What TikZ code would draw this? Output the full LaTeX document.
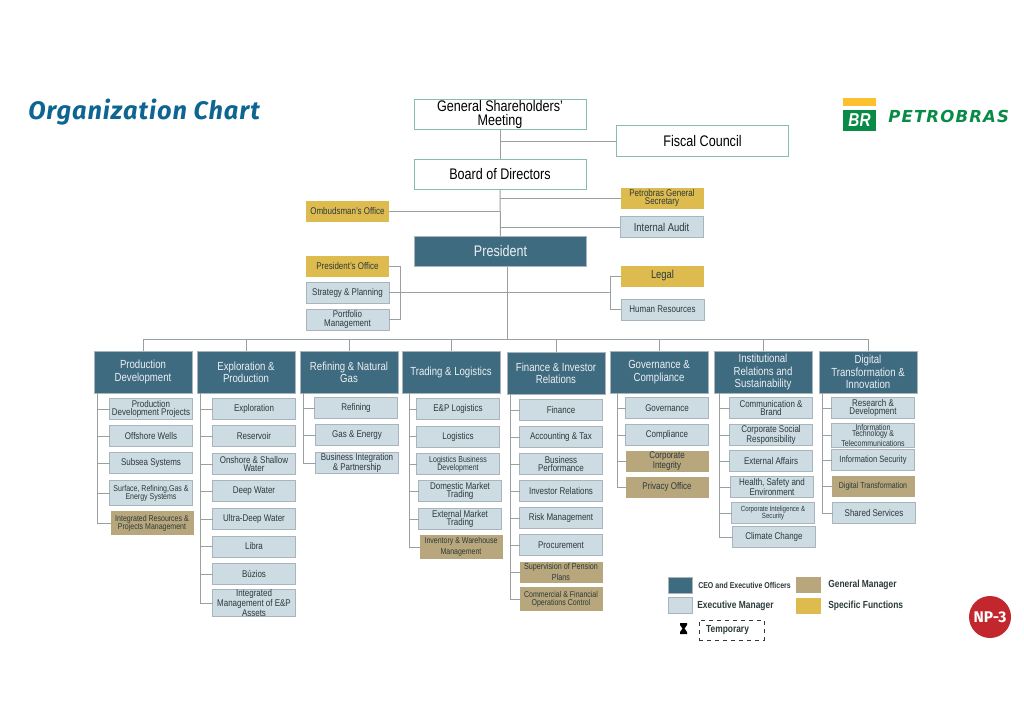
\documentclass[tikz,border=0pt]{standalone}
\usepackage{fontspec}
\setmainfont[FakeStretch=0.82]{Liberation Sans}
\newfontfamily\titlefont[LetterSpace=3.8]{Fira Sans}
\newfontfamily\logofont[LetterSpace=7]{DejaVu Sans}
\newfontfamily\npfont{Fira Sans}
\definecolor{headblue}{HTML}{3F6B80}
\definecolor{execblue}{HTML}{CDDBE3}
\definecolor{execline}{HTML}{A9B5BC}
\definecolor{gmtan}{HTML}{B8A67C}
\definecolor{specgold}{HTML}{DDBB4F}
\definecolor{topgreen}{HTML}{86BFA8}
\definecolor{linkgrey}{HTML}{9A9FA0}
\definecolor{inkgrey}{HTML}{2C3A3A}
\definecolor{titleblue}{HTML}{0F6592}
\definecolor{brgreen}{HTML}{0A8A47}
\definecolor{bryellow}{HTML}{FDC02F}
\definecolor{npred}{HTML}{C1272D}

\begin{document}
\begin{tikzpicture}[x=0.75pt, y=-0.75pt]
\tikzstyle{box}=[rectangle, align=center, inner sep=0pt, outer sep=0pt, line width=0.75pt, text=inkgrey, font=\fontsize{7.3}{6.5}\selectfont, minimum width=62.25pt, minimum height=15.75pt]
\tikzstyle{top}=[box, draw=topgreen, fill=white, text=black, font=\fontsize{11.5}{11}\selectfont, minimum width=129pt, minimum height=23pt]
\tikzstyle{head}=[box, draw=execline, fill=headblue, text=white!90!headblue, font=\fontsize{8.8}{9.2}\selectfont, minimum width=73.5pt, minimum height=31.5pt]
\tikzstyle{exec}=[box, draw=execline, fill=execblue]
\tikzstyle{gm}=[box, fill=gmtan]
\tikzstyle{spec}=[box, fill=specgold]
\tikzstyle{small}=[font=\fontsize{6.4}{6}\selectfont]
\tikzstyle{large}=[font=\fontsize{8.6}{9}\selectfont]
\tikzstyle{legend}=[anchor=west, inner sep=0pt, text=inkgrey, font=\fontsize{7.7}{8}\selectfont\bfseries]
\tikzstyle{link}=[draw=linkgrey, line width=0.75pt]
\tikzstyle{elbow}=[link, to path={|- (\tikztotarget)}]
\useasboundingbox (0,0) rectangle (1024,724);

% title and logo
\node[anchor=west, inner sep=0pt, text=titleblue, font=\titlefont\fontsize{19}{20}\selectfont\bfseries\itshape] (title) at (28,112) {Organization Chart};
\fill[bryellow] (843,98) rectangle (876,106);
\node[fill=brgreen, text=white, inner sep=0pt, minimum width=24.75pt, minimum height=15.75pt, font=\fontsize{14}{14}\selectfont\bfseries\itshape] (br) at (859.5,120.5) {BR};
\node[anchor=west, inner sep=0pt, text=brgreen, font=\logofont\fontsize{12.4}{13}\selectfont\bfseries\itshape] (petro) at (888,116) {PETROBRAS};

% top of the chart
\node[top] (gsm) at (500,114.5) {General Shareholders'\\Meeting};
\node[top] (fiscal) at (702.5,141) {Fiscal Council};
\node[top] (board) at (500,174.5) {Board of Directors};
\node[top, draw=execline, fill=headblue, text=white!90!headblue] (pres) at (500.5,251.5) {President};
\node[spec] (ombud) at (347.5,211.5) {Ombudsman's Office};
\node[spec] (secr) at (662,198) {Petrobras General\\Secretary};
\node[exec, large] (audit) at (661.5,227) {Internal Audit};
\node[spec] (poff) at (347.5,266) {President's Office};
\node[exec] (strat) at (347.5,292.5) {Strategy \& Planning};
\node[exec] (port) at (347.5,319.5) {Portfolio\\Management};
\node[spec, large] (legal) at (662.5,276) {Legal};
\node[exec] (hr) at (662.5,309.5) {Human Resources};

% executive officers
\node[head] (pd) at (143,372) {Production\\Development};
\node[head] (ep) at (246,372) {Exploration \&\\Production};
\node[head] (rg) at (349,372) {Refining \& Natural\\Gas};
\node[head] (tl) at (451,372) {Trading \& Logistics};
\node[head] (fi) at (556,373) {Finance \& Investor\\Relations};
\node[head] (gc) at (659,372) {Governance \&\\Compliance};
\node[head] (is) at (763,372) {Institutional\\Relations and\\Sustainability};
\node[head] (dt) at (868,372) {Digital\\Transformation \&\\Innovation};

\node[exec] (pd1) at (151,409) {Production\\Development Projects};
\node[exec] (pd2) at (151,436) {Offshore Wells};
\node[exec] (pd3) at (151,463) {Subsea Systems};
\node[exec, small, minimum height=19pt] (pd4) at (151,493) {Surface, Refining,Gas \&\\Energy Systems};
\node[gm, small, minimum height=18pt] (pd5) at (152,523) {Integrated Resources \&\\Projects Management};

\node[exec] (ep1) at (254,409) {Exploration};
\node[exec] (ep2) at (254,436) {Reservoir};
\node[exec] (ep3) at (254,464) {Onshore \& Shallow\\Water};
\node[exec] (ep4) at (254,491) {Deep Water};
\node[exec] (ep5) at (254,519) {Ultra-Deep Water};
\node[exec] (ep6) at (254,546.5) {Libra};
\node[exec] (ep7) at (254,574) {Búzios};
\node[exec, minimum height=20.25pt] (ep8) at (254,603) {Integrated\\Management of E\&P\\Assets};

\node[exec] (rg1) at (356,408) {Refining};
\node[exec] (rg2) at (357,435) {Gas \& Energy};
\node[exec] (rg3) at (357,463) {Business Integration\\\& Partnership};

\node[exec] (tl1) at (458,409) {E\&P Logistics};
\node[exec] (tl2) at (458,436.5) {Logistics};
\node[exec, small] (tl3) at (458,464) {Logistics Business\\Development};
\node[exec] (tl4) at (460,491) {Domestic Market\\Trading};
\node[exec] (tl5) at (460,519) {External Market\\Trading};
\node[gm, small, minimum height=18pt, font=\fontsize{6.4}{8}\selectfont] (tl6) at (461,547) {Inventory \& Warehouse\\Management};

\node[exec] (fi1) at (561,410) {Finance};
\node[exec] (fi2) at (561,437) {Accounting \& Tax};
\node[exec] (fi3) at (561,464) {Business\\Performance};
\node[exec] (fi4) at (561,491) {Investor Relations};
\node[exec] (fi5) at (561,518) {Risk Management};
\node[exec] (fi6) at (561,545) {Procurement};
\node[gm, small, font=\fontsize{6.6}{8}\selectfont] (fi7) at (561,572) {Supervision of Pension\\Plans};
\node[gm, small, minimum height=18pt] (fi8) at (561,599) {Commercial \& Financial\\Operations Control};

\node[exec] (gc1) at (667,408) {Governance};
\node[exec] (gc2) at (667,435) {Compliance};
\node[gm] (gc3) at (667,461) {Corporate\\Integrity};
\node[gm] (gc4) at (667,487) {Privacy Office};

\node[exec] (is1) at (771,408) {Communication \&\\Brand};
\node[exec] (is2) at (771,435) {Corporate Social\\Responsibility};
\node[exec] (is3) at (771,461) {External Affairs};
\node[exec] (is4) at (772,487) {Health, Safety and\\Environment};
\node[exec, font=\fontsize{5.6}{5.6}\selectfont] (is5) at (773,513) {Corporate Inteligence \&\\Security};
\node[exec] (is6) at (774,537) {Climate Change};

\node[exec] (dt1) at (873,408) {Research \&\\Development};
\node[exec, minimum height=18pt, font=\fontsize{6.4}{5}\selectfont] (dt2) at (873,435) {Information\\Technology \&\\Telecommunications};
\node[exec, font=\fontsize{6.9}{6.5}\selectfont] (dt3) at (873,460) {Information Security};
\node[gm, small] (dt4) at (873,486) {Digital Transformation};
\node[exec] (dt5) at (874,513) {Shared Services};

% free ends of the connectors
\coordinate (gsmjoin) at (500,141);
\coordinate (boardsec) at (500,198);
\coordinate (boardomb) at (500,211.5);
\coordinate (boardaud) at (500,227);
\coordinate (poffrun) at (400,292.5);
\coordinate (hrrun) at (610,292.5);
\coordinate (bus) at (507,339);
\coordinate (prestop) at (507,267);
\coordinate (pdt) at (97,393);
\coordinate (ept) at (200,393);
\coordinate (rgt) at (303,393);
\coordinate (tlt) at (409,393);
\coordinate (fit) at (510,394);
\coordinate (gct) at (617,393);
\coordinate (ist) at (719,393);
\coordinate (dtt) at (822,393);

\path (gsm) edge [link] (board)
      (board) edge [link] (pres)
      (gsmjoin) edge [link] (fiscal)
      (boardsec) edge [link] (secr)
      (boardomb) edge [link] (ombud)
      (boardaud) edge [link] (audit)
      (prestop) edge [link] (bus)
      (strat) edge [link] (hrrun)
      (poffrun) edge [elbow] (poff)
      (poffrun) edge [elbow] (port)
      (hrrun) edge [elbow] (legal)
      (hrrun) edge [elbow] (hr);
\path (bus) edge [link, to path={-| (\tikztotarget)}] (pd)
      (bus) edge [link, to path={-| (\tikztotarget)}] (ep)
      (bus) edge [link, to path={-| (\tikztotarget)}] (rg)
      (bus) edge [link, to path={-| (\tikztotarget)}] (tl)
      (bus) edge [link, to path={-| (\tikztotarget)}] (fi)
      (bus) edge [link, to path={-| (\tikztotarget)}] (gc)
      (bus) edge [link, to path={-| (\tikztotarget)}] (is)
      (bus) edge [link, to path={-| (\tikztotarget)}] (dt);
\path (pdt) edge [elbow] (pd1)
      (pdt) edge [elbow] (pd2)
      (pdt) edge [elbow] (pd3)
      (pdt) edge [elbow] (pd4)
      (pdt) edge [elbow] (pd5)
      (ept) edge [elbow] (ep1)
      (ept) edge [elbow] (ep2)
      (ept) edge [elbow] (ep3)
      (ept) edge [elbow] (ep4)
      (ept) edge [elbow] (ep5)
      (ept) edge [elbow] (ep6)
      (ept) edge [elbow] (ep7)
      (ept) edge [elbow] (ep8)
      (rgt) edge [elbow] (rg1)
      (rgt) edge [elbow] (rg2)
      (rgt) edge [elbow] (rg3)
      (tlt) edge [elbow] (tl1)
      (tlt) edge [elbow] (tl2)
      (tlt) edge [elbow] (tl3)
      (tlt) edge [elbow] (tl4)
      (tlt) edge [elbow] (tl5)
      (tlt) edge [elbow] (tl6)
      (fit) edge [elbow] (fi1)
      (fit) edge [elbow] (fi2)
      (fit) edge [elbow] (fi3)
      (fit) edge [elbow] (fi4)
      (fit) edge [elbow] (fi5)
      (fit) edge [elbow] (fi6)
      (fit) edge [elbow] (fi7)
      (fit) edge [elbow] (fi8)
      (gct) edge [elbow] (gc1)
      (gct) edge [elbow] (gc2)
      (gct) edge [elbow] (gc3)
      (gct) edge [elbow] (gc4)
      (ist) edge [elbow] (is1)
      (ist) edge [elbow] (is2)
      (ist) edge [elbow] (is3)
      (ist) edge [elbow] (is4)
      (ist) edge [elbow] (is5)
      (ist) edge [elbow] (is6)
      (dtt) edge [elbow] (dt1)
      (dtt) edge [elbow] (dt2)
      (dtt) edge [elbow] (dt3)
      (dtt) edge [elbow] (dt4)
      (dtt) edge [elbow] (dt5);

% legend
\node[box, draw=execline, fill=headblue, minimum width=18pt, minimum height=12pt] (keyceo) at (680,585) {};
\node[exec, minimum width=18pt, minimum height=12pt] (keyexec) at (680,605.5) {};
\node[gm, minimum width=18.75pt, minimum height=12pt] (keygm) at (808.5,585) {};
\node[spec, minimum width=18.75pt, minimum height=12pt] (keyspec) at (808.5,606) {};
\node[legend, font=\fontsize{6.4}{7}\selectfont\bfseries] (txtceo) at (698,585) {CEO and Executive Officers};
\node[legend] (txtexec) at (697,606) {Executive Manager};
\node[legend] (txtgm) at (828,585) {General Manager};
\node[legend] (txtspec) at (828,606) {Specific Functions};
\node[box, draw=inkgrey, dashed, fill=white, font=\fontsize{7.7}{8}\selectfont\bfseries, minimum width=48.75pt, minimum height=15pt] (temp) at (731.5,630) {Temporary\hspace*{6pt}};
\fill[black] (680,623) -- (687,623) -- (687,625) -- (684.5,628.5) -- (687,632) -- (687,634) -- (680,634) -- (680,632) -- (682.5,628.5) -- (680,625) -- cycle;
\node[circle, fill=npred, text=white, inner sep=0pt, minimum size=31.5pt, font=\npfont\fontsize{11.6}{12}\selectfont\bfseries] (np) at (990,617) {NP-3};
\end{tikzpicture}
\end{document}
